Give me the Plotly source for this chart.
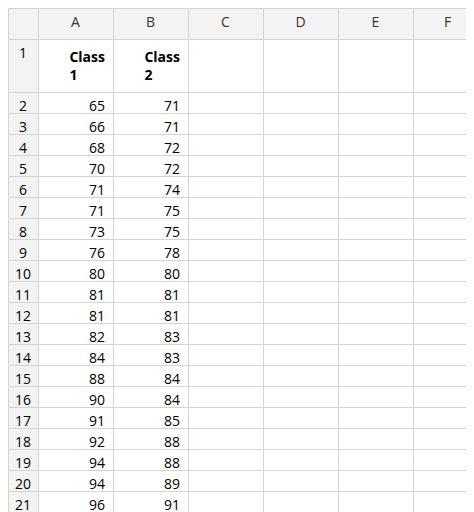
import plotly.graph_objects as go

columns = ["A", "B", "C", "D", "E", "F"]
class1 = [65, 66, 68, 70, 71, 71, 73, 76, 80, 81, 81, 82, 84, 88, 90, 91, 92, 94, 94, 96]
class2 = [71, 71, 72, 72, 74, 75, 75, 78, 80, 81, 81, 83, 83, 84, 84, 85, 88, 88, 89, 91]
n_rows = 23

pad = "\u00a0" * 4
rownums = [str(i) for i in range(1, n_rows + 1)]
colA = ["<b>Class 1</b>" + pad] + [str(v) for v in class1] + [""] * (n_rows - 1 - len(class1))
colB = ["<b>Class 2</b>" + pad] + [str(v) for v in class2] + [""] * (n_rows - 1 - len(class2))
empty = [""] * n_rows

fig = go.Figure(go.Table(
    columnwidth=[30, 75, 75, 75, 75, 75, 69],
    header=dict(
        values=[""] + columns,
        fill_color="#f3f3f3",
        line_color="#d4d4d4",
        font=dict(family="Open Sans, Liberation Sans", size=14, color="#333333"),
        align="center",
        height=31,
    ),
    cells=dict(
        values=[rownums, colA, colB, empty, empty, empty, empty],
        fill_color=[["#f3f3f3"] * n_rows] + [["white"] * n_rows] * 6,
        line_color="#d4d4d4",
        font=dict(family="Open Sans, Liberation Sans", size=14, color="black"),
        align=["center", "right", "right", "left", "left", "left", "left"],
        height=21,
    ),
))
fig.update_layout(width=474, height=512, margin=dict(l=0, r=0, t=0, b=0),
                  paper_bgcolor="white")
fig.write_html("out.html")
